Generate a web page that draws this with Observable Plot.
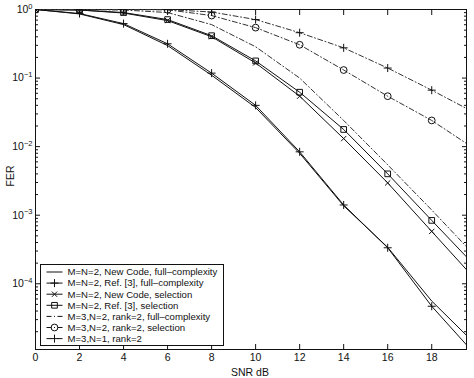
<!DOCTYPE html>
<html><head><meta charset="utf-8">
<script src="https://cdn.jsdelivr.net/npm/d3@7"></script>
<script src="https://cdn.jsdelivr.net/npm/@observablehq/plot@0.6"></script>
<style>
body{margin:0;background:#fff;}
#wrap{position:relative;width:474px;height:378px;font-family:"Liberation Sans",Arial,sans-serif;}
#wrap svg{display:block;}
#overlay{position:absolute;left:0;top:0;pointer-events:none;}
</style></head><body><div id="wrap"></div>
<script>
// ---- data ----
const snr = [0, 2, 4, 6, 8, 10, 12, 14, 16, 18, 20];
const newCodeFull = [1, 0.862, 0.603, 0.298, 0.110, 0.0372, 0.0080, 0.00137, 3.4e-4, 5.6e-5, 1.3e-5];
const ref3Full    = [1, 0.873, 0.623, 0.316, 0.118, 0.0400, 0.0084, 0.00141, 3.35e-4, 4.7e-5, 9.1e-6];
const newCodeSel  = [1, 0.983, 0.888, 0.689, 0.401, 0.166, 0.0544, 0.0131, 0.00296, 5.8e-4, 1.14e-4];
const ref3Sel     = [1, 0.983, 0.903, 0.713, 0.415, 0.178, 0.0622, 0.0178, 0.00401, 8.4e-4, 1.78e-4];
const m3n2Full    = [1, 0.995, 0.983, 0.903, 0.602, 0.286, 0.100, 0.0241, 0.00543, 0.00119, 2.5e-4];
const m3n2Sel     = [1, 1, 0.998, 0.99, 0.816, 0.544, 0.306, 0.131, 0.0544, 0.0241, 0.00904];
const m3n1        = [1, 1, 1, 0.995, 0.92, 0.713, 0.459, 0.276, 0.140, 0.0666, 0.0306];
const seriesNames = [
  "M=N=2, New Code, full–complexity",
  "M=N=2, Ref. [3], full–complexity",
  "M=N=2, New Code, selection",
  "M=N=2, Ref. [3], selection",
  "M=3,N=2, rank=2, full–complexity",
  "M=3,N=2, rank=2, selection",
  "M=3,N=1, rank=2"
];
const xTicks = [0, 2, 4, 6, 8, 10, 12, 14, 16, 18];
const yMajor = [1, 1e-1, 1e-2, 1e-3, 1e-4];
const yLabels = ["10^0", "10^-1", "10^-2", "10^-3", "10^-4"];
const xLabel = "SNR dB";
const yLabel = "FER";

// ---- styles ----
const seriesValues = [newCodeFull, ref3Full, newCodeSel, ref3Sel, m3n2Full, m3n2Sel, m3n1];
const styles = [
  {dash: null, symbol: null, r: 0},
  {dash: null, symbol: "plus", r: 2.7},
  {dash: null, symbol: "times", r: 2.5},
  {dash: null, symbol: "square", r: 3.2},
  {dash: "5,2.5,1,2.5", symbol: null, r: 0},
  {dash: "5,2.5,1,2.5", symbol: "circle", r: 3.4},
  {dash: "5,2.5,1,2.5", symbol: "plus", r: 2.7}
];
const rows = seriesNames.flatMap((name, s) => snr.map((x, i) => ({x, y: seriesValues[s][i], name})));
const yMinor = [];
for (let e = -5; e < 0; e++) for (let m = 2; m <= 9; m++) { const v = m * Math.pow(10, e); if (v >= 1.1e-5) yMinor.push(v); }
const labelOf = new Map(yMajor.map((v, i) => [v, yLabels[i]]));

const marks = [
  Plot.frame({stroke: "#111", strokeWidth: 1}),
  Plot.axisX(xTicks, {anchor: "bottom", tickSize: -5, tickPadding: 9, label: null, fontSize: 10.5}),
  Plot.axisX(xTicks, {anchor: "top", tickSize: -5, tickFormat: () => "", label: null}),
  Plot.axisY(yMajor, {anchor: "left", tickSize: -5, tickPadding: 8, tickFormat: d => labelOf.get(d), label: null, fontSize: 10.5}),
  Plot.axisY(yMajor, {anchor: "right", tickSize: -5, tickFormat: () => "", label: null}),
  Plot.axisY(yMinor, {anchor: "left", tickSize: -3, tickFormat: () => "", label: null}),
  Plot.axisY(yMinor, {anchor: "right", tickSize: -3, tickFormat: () => "", label: null})
];
seriesNames.forEach((name, s) => {
  const data = rows.filter(d => d.name === name);
  const st = styles[s];
  marks.push(Plot.line(data, {x: "x", y: "y", stroke: s >= 4 ? "#333" : "#111", strokeWidth: 1, strokeDasharray: st.dash, clip: true}));
  if (st.symbol) marks.push(Plot.dot(data, {x: "x", y: "y", symbol: st.symbol, r: st.r, stroke: "#111", fill: "none", strokeWidth: 1, clip: true}));
});

const plot = Plot.plot({
  width: 474, height: 378,
  marginLeft: 35, marginRight: 8, marginTop: 9, marginBottom: 29,
  style: {fontFamily: "Liberation Sans, Arial, sans-serif", fontSize: "10px", background: "white", color: "#111"},
  x: {domain: [0, 19.58]},
  y: {type: "log", domain: [1.1e-5, 1]},
  marks
});
document.getElementById("wrap").appendChild(plot);

// superscript tick labels
d3.select(plot).selectAll('g[aria-label="y-axis tick label"] text').each(function() {
  const t = d3.select(this);
  const s = t.text();
  if (!s.includes("^")) return;
  const [base, exp] = s.split("^");
  t.text(null);
  t.append("tspan").text(base);
  t.append("tspan").attr("dy", "-0.55em").attr("font-size", "7.5px").text(exp.replace("-", "−"));
});

// ---- legend + axis titles overlay ----
const ov = d3.select("#wrap").append("svg").attr("id", "overlay").attr("width", 474).attr("height", 378)
  .attr("font-family", "Liberation Sans, Arial, sans-serif").attr("fill", "#111");
const lx = 40.5, ly = 264.5, lw = 183, lh = 81, row = 11.1;
ov.append("rect").attr("x", lx).attr("y", ly).attr("width", lw).attr("height", lh).attr("fill", "white").attr("stroke", "#111");
const sym = {plus: d3.symbolPlus, times: d3.symbolTimes, square: d3.symbolSquare, circle: d3.symbolCircle};
seriesNames.forEach((name, s) => {
  const y = ly + 7.5 + s * row;
  const st = styles[s];
  ov.append("line").attr("x1", lx + 6).attr("x2", lx + 22).attr("y1", y).attr("y2", y)
    .attr("stroke", "#111").attr("stroke-dasharray", st.dash);
  if (st.symbol) ov.append("path").attr("transform", `translate(${lx + 14},${y})`)
    .attr("d", d3.symbol(sym[st.symbol], Math.PI * st.r * st.r)()).attr("fill", "none").attr("stroke", "#111");
  ov.append("text").attr("x", lx + 27).attr("y", y).attr("dy", "0.35em").attr("font-size", 9.6).text(name);
});
ov.append("text").attr("x", 250).attr("y", 372).attr("dy", "0.35em").attr("text-anchor", "middle").attr("font-size", 10.5).text(xLabel);
ov.append("text").attr("transform", "translate(10,176) rotate(-90)").attr("dy", "0.35em").attr("text-anchor", "middle").attr("font-size", 10.5).text(yLabel);
</script></body></html>
